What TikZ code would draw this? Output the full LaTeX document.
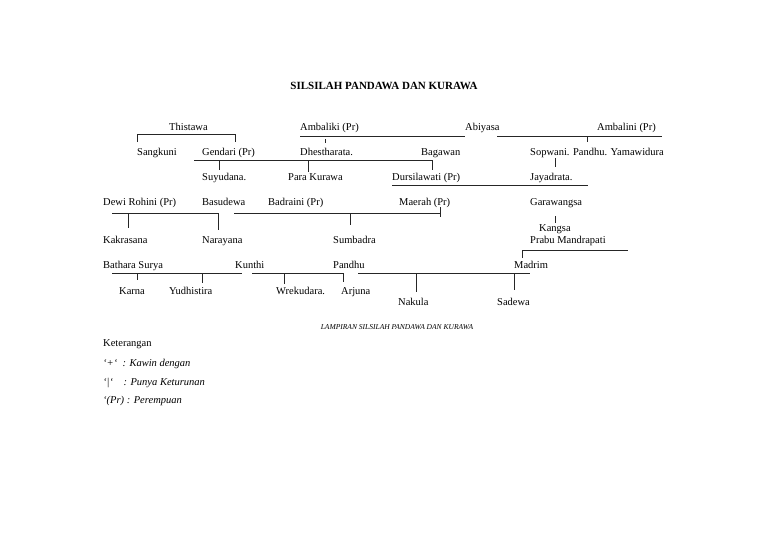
\documentclass[tikz,border=0pt]{standalone}
\usepackage{fontspec}
\setmainfont{Liberation Serif}
\begin{document}
\begin{tikzpicture}[x=1pt,y=-1pt,
  t/.style={anchor=base west,inner sep=0pt,font=\fontsize{10.5}{12}\selectfont},
  ln/.style={line width=0.8pt,black!85}]
\useasboundingbox (0,0) rectangle (768,544);
\node[anchor=base,inner sep=0pt,font=\fontsize{11}{13}\selectfont\bfseries] (title) at (384,89) {SILSILAH PANDAWA DAN KURAWA};
% row 1
\node[t] (thi) at (169,130) {Thistawa};
\node[t] (amk) at (300,130) {Ambaliki (Pr)};
\node[t] (abi) at (465,130) {Abiyasa};
\node[t] (amn) at (597,130) {Ambalini (Pr)};
% row 2
\node[t] (san) at (137,155) {Sangkuni};
\node[t] (gen) at (202,155) {Gendari (Pr)};
\node[t] (dhe) at (300,155) {Dhestharata.};
\node[t] (bag) at (421,155) {Bagawan};
\node[t] (sop) at (530,155) {Sopwani. Pandhu. Yamawidura};
% row 3
\node[t] (suy) at (202,180) {Suyudana.};
\node[t] (par) at (288,180) {Para Kurawa};
\node[t] (dur) at (392,180) {Dursilawati (Pr)};
\node[t] (jay) at (530,180) {Jayadrata.};
% row 4
\node[t] (dew) at (103,205) {Dewi Rohini (Pr)};
\node[t] (bas) at (202,205) {Basudewa};
\node[t] (bad) at (268,205) {Badraini (Pr)};
\node[t] (mae) at (399,205) {Maerah (Pr)};
\node[t] (gar) at (530,205) {Garawangsa};
% row 5
\node[t] (kan) at (539,231) {Kangsa};
\node[t] (kak) at (103,243) {Kakrasana};
\node[t] (nar) at (202,243) {Narayana};
\node[t] (sum) at (333,243) {Sumbadra};
\node[t] (pra) at (530,243) {Prabu Mandrapati};
% row 6
\node[t] (bat) at (103,268) {Bathara Surya};
\node[t] (kun) at (235,268) {Kunthi};
\node[t] (pan) at (333,268) {Pandhu};
\node[t] (mad) at (514,268) {Madrim};
% row 7
\node[t] (kar) at (119,294) {Karna};
\node[t] (yud) at (169,294) {Yudhistira};
\node[t] (wre) at (276,294) {Wrekudara.};
\node[t] (arj) at (341,294) {Arjuna};
\node[t] (nak) at (398,305) {Nakula};
\node[t] (sad) at (497,305) {Sadewa};
% notes
\node[anchor=base,inner sep=0pt,font=\fontsize{7.5}{9}\selectfont\itshape] (lam) at (397,329) {LAMPIRAN SILSILAH PANDAWA DAN KURAWA};
\node[t] (ket) at (103,346) {Keterangan};
\node[t,font=\fontsize{10.5}{12}\selectfont\itshape] (l1) at (103,366) {`+`\ \ : Kawin dengan};
\node[t,font=\fontsize{10.5}{12}\selectfont\itshape] (l2) at (103,385) {`|`\ \ \ \ : Punya Keturunan};
\node[t,font=\fontsize{10.5}{12}\selectfont\itshape] (l3) at (103,403) {`(Pr) : Perempuan};
% lines
\draw[ln] (137,142) -- (137,134) -- (235,134) -- (235,142);
\draw[ln] (300,136) -- (465,136);
\draw[ln] (497,136) -- (662,136);
\draw[ln] (587,136) -- (587,142);
\draw[ln] (325,139) -- (325,143);
\draw[ln] (194,160) -- (432,160) -- (432,170);
\draw[ln] (219,160) -- (219,170);
\draw[ln] (308,160) -- (308,172);
\draw[ln] (555,158) -- (555,167);
\draw[ln] (392,185) -- (588,185);
\draw[ln] (112,213) -- (218,213);
\draw[ln] (128,213) -- (128,228);
\draw[ln] (218,213) -- (218,230);
\draw[ln] (234,213) -- (440,213);
\draw[ln] (440,207) -- (440,217);
\draw[ln] (350,213) -- (350,225);
\draw[ln] (555,216) -- (555,223);
\draw[ln] (522,258) -- (522,250) -- (628,250);
\draw[ln] (112,273) -- (242,273);
\draw[ln] (137,273) -- (137,280);
\draw[ln] (202,273) -- (202,283);
\draw[ln] (252,273) -- (343,273) -- (343,282);
\draw[ln] (284,273) -- (284,284);
\draw[ln] (358,273) -- (530,273);
\draw[ln] (416,273) -- (416,292);
\draw[ln] (514,273) -- (514,290);
\end{tikzpicture}
\end{document}
